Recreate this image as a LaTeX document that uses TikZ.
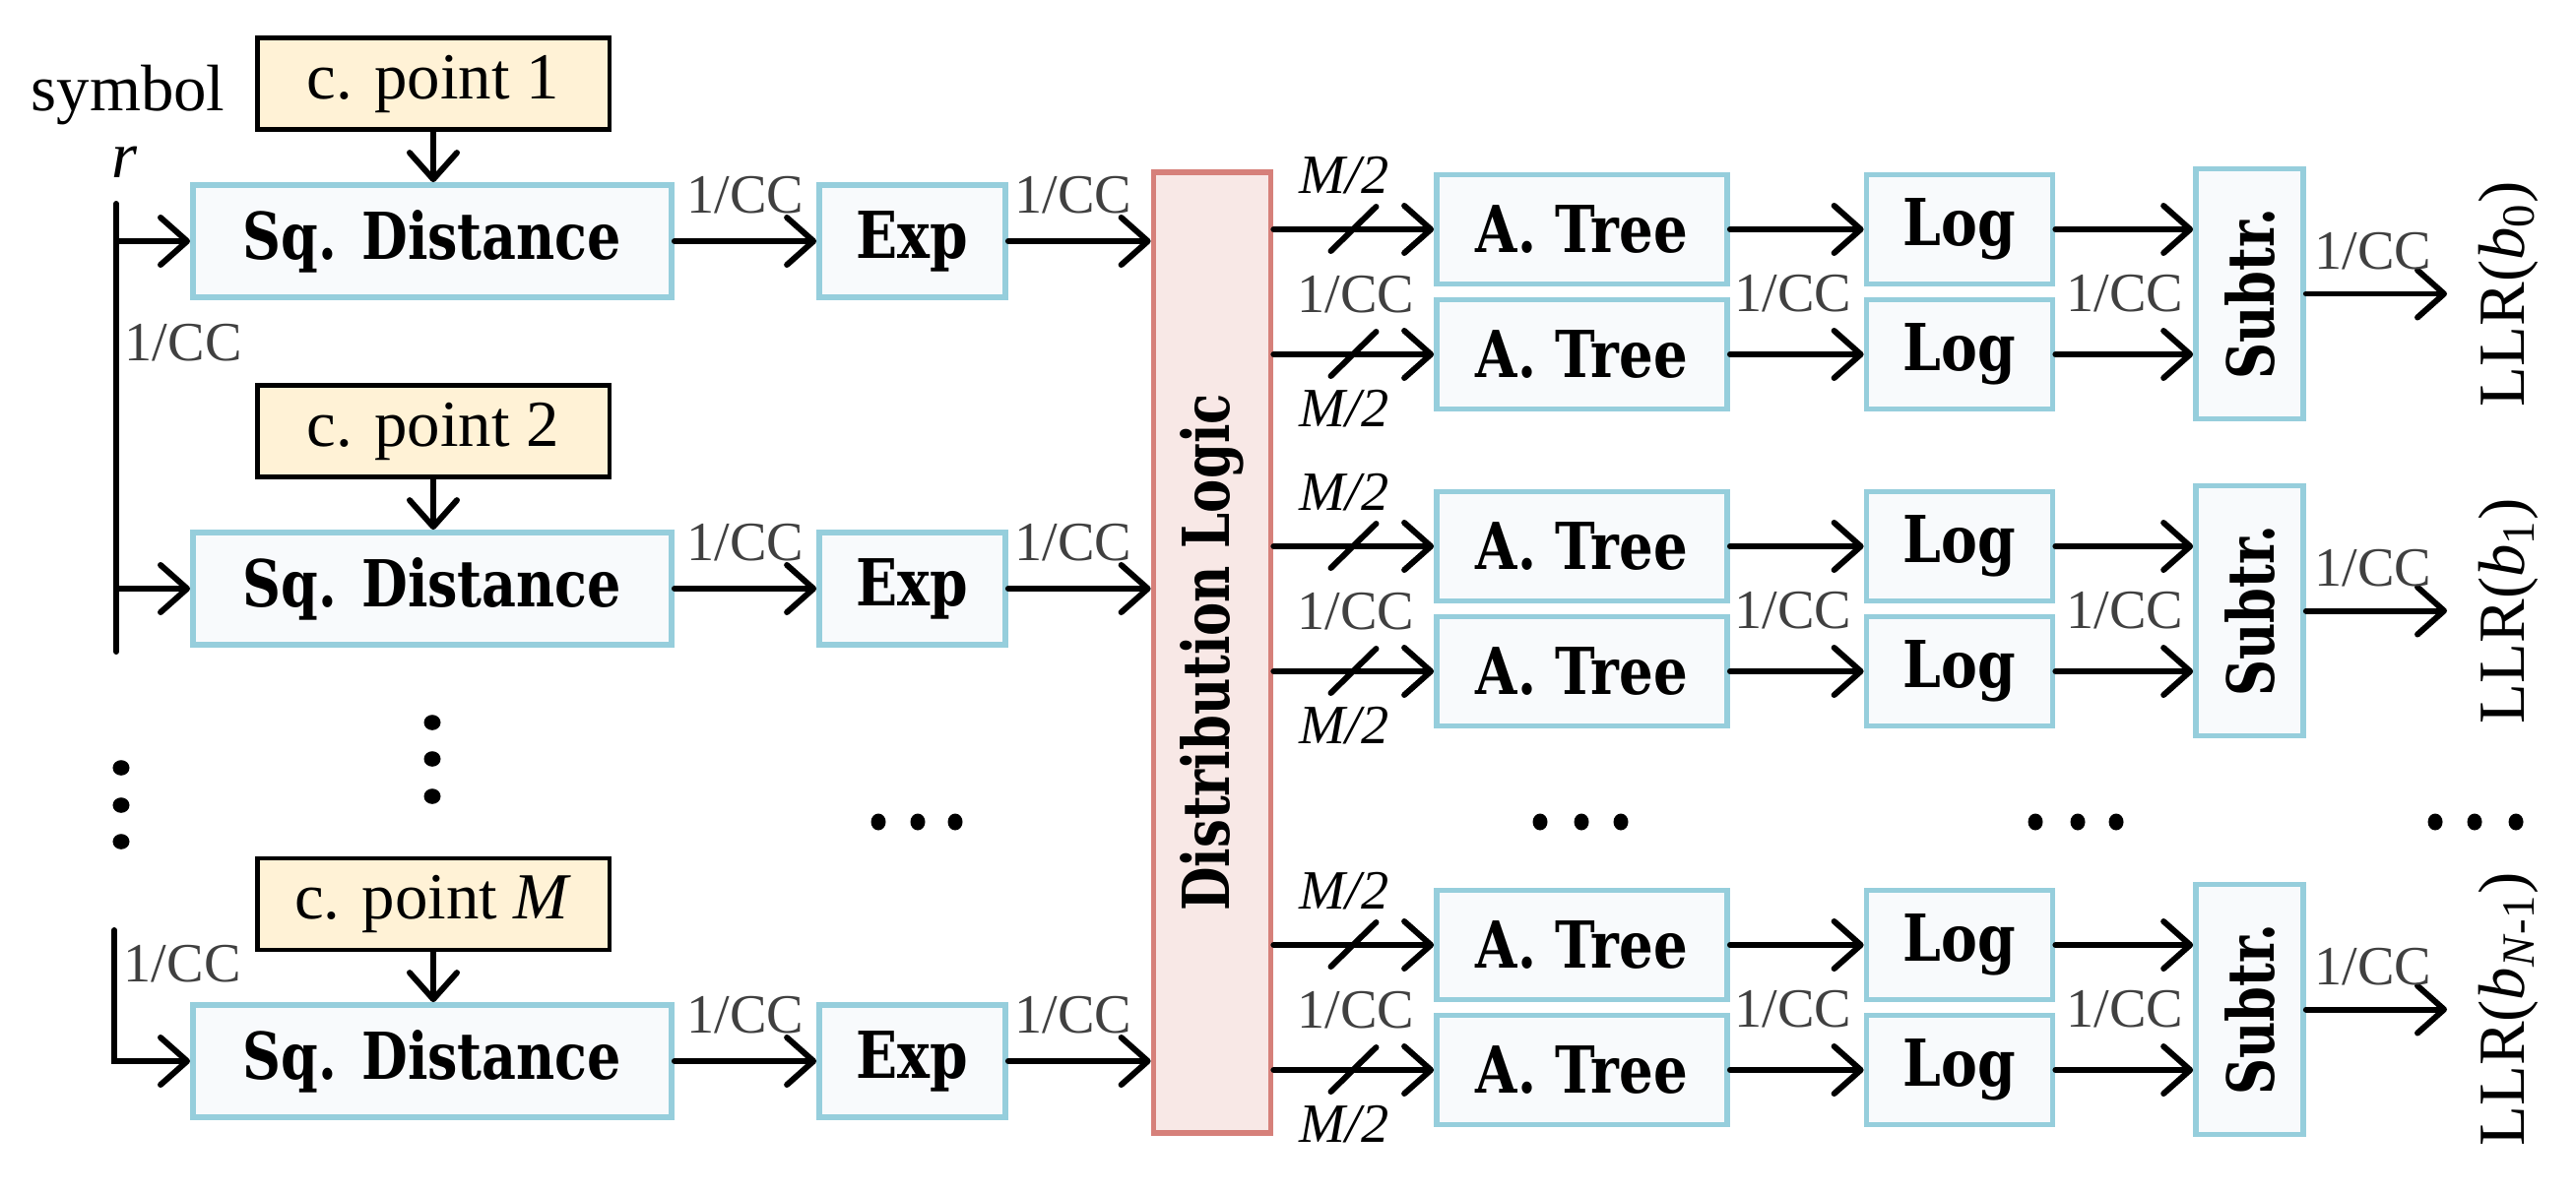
\documentclass[tikz,border=0pt]{standalone}
\usepackage{fontspec}
\usepackage{graphicx}
\setmainfont{Liberation Serif}
\newfontfamily\slabfamily{DejaVu Serif}
\usetikzlibrary{arrows.meta,calc}
\definecolor{bblue}{RGB}{150,206,220}
\definecolor{bfill}{RGB}{248,250,252}
\definecolor{yfill}{RGB}{255,242,214}
\definecolor{rborder}{RGB}{214,128,122}
\definecolor{rfill}{RGB}{248,232,230}
\definecolor{lgray}{RGB}{64,64,64}
\begin{document}
\begin{tikzpicture}[x=0.01cm, y=-0.01cm,
  proc/.style={draw=bblue, fill=bfill, line width=1.6pt, inner sep=0pt,
    font={\slabfamily\bfseries\fontsize{18.7}{22}\selectfont}},
  sqbox/.style={proc, minimum width=4.86cm, minimum height=1.14cm},
  expbox/.style={proc, minimum width=1.89cm, minimum height=1.14cm},
  treebox/.style={proc, minimum width=2.95cm, minimum height=1.11cm},
  logbox/.style={proc, minimum width=1.89cm, minimum height=1.11cm},
  subbox/.style={proc, minimum width=1.09cm, minimum height=2.54cm},
  distbox/.style={draw=rborder, fill=rfill, line width=1.6pt, inner sep=0pt,
    minimum width=1.19cm, minimum height=9.75cm,
    font={\slabfamily\bfseries\fontsize{18.7}{22}\selectfont}},
  cpt/.style={draw=black, fill=yfill, line width=1.2pt, inner sep=0pt,
    minimum width=3.57cm, minimum height=0.93cm,
    font={\fontsize{19}{21}\selectfont}},
  lab/.style={text=lgray, font={\fontsize{16}{18}\selectfont}, inner sep=0pt},
  mlab/.style={font={\fontsize{16}{18}\selectfont\itshape}, inner sep=0pt},
  llrlab/.style={font={\fontsize{19}{21}\selectfont}, inner sep=0pt},
  txt/.style={font={\fontsize{19}{21}\selectfont}, inner sep=0pt},
  ln/.style={line width=1.7pt, line cap=round},
  arr/.style={line width=1.7pt, line cap=round,
    -{Straight Barb[length=0.27cm, width=0.48cm, line cap=round, line join=round]}},
  dotc/.style={fill=black, draw=none}]
\useasboundingbox (0,0) rectangle (2616,1212);

% input label
\node[txt, anchor=base] (sym) at (130,112) {symbol};
\node[txt, anchor=base] (rsym) at (127,180) {\textit{r}};

% left rows
\foreach \r/\y/\cy/\cl in {1/245/85/{1}, 2/598/438/{2}, 3/1078/918.5/{\textit{M}}} {
  \node[sqbox] (sq\r) at (439,\y) {\scalebox{0.82}[1]{Sq. Distance}};
  \node[cpt] (cp\r) at (440,\cy) {c. point \cl};
  \node[expbox] (ex\r) at (926.5,\y) {\scalebox{0.84}[1]{Exp}};
  \draw[arr] (cp\r.south) -- (cp\r.south |- sq\r.north);
  \draw[arr] (sq\r.east) -- (ex\r.west);
  \node[lab] (cs\r) at (757,\y-47) {1/CC};
  \node[lab] (ce\r) at (1090,\y-47) {1/CC};
}

\node[distbox] (dist) at (1231,663) {\rotatebox{90}{\scalebox{0.78}[1]{Distribution Logic}}};
\foreach \r in {1,2,3} {
  \draw[arr] (ex\r.east) -- (ex\r.east -| dist.west);
}

% bus
\coordinate (busT) at (118,207);
\coordinate (busB) at (118,662);
\draw[ln] (busT) -- (busB);
\draw[arr] (busT |- sq1.west) -- (sq1.west);
\draw[arr] (busT |- sq2.west) -- (sq2.west);
\node[lab, anchor=west] (ccb) at (126,348) {1/CC};
\coordinate (busM) at (116,945);
\draw[arr] (busM) |- (sq3.west);
\node[lab, anchor=west] (ccm) at (125,979) {1/CC};

% right groups
\foreach \g/\ya/\yb/\sub in {1/233/360/{0}, 2/555/682/{1}, 3/960/1087/{\textit{N}-1}} {
  \pgfmathsetmacro\ym{(\ya+\yb)/2}
  \node[treebox] (ta\g) at (1606.5,\ya) {\scalebox{0.83}[1]{A. Tree}};
  \node[treebox] (tb\g) at (1606.5,\yb) {\scalebox{0.83}[1]{A. Tree}};
  \node[logbox] (la\g) at (1990,\ya) {\scalebox{0.84}[1]{Log}};
  \node[logbox] (lb\g) at (1990,\yb) {\scalebox{0.84}[1]{Log}};
  \node[subbox] (sb\g) at (2284.5,\ym+2) {\rotatebox{90}{\scalebox{0.78}[1]{Subtr.}}};
  \draw[arr] (dist.east |- ta\g.west) -- (ta\g.west);
  \draw[arr] (dist.east |- tb\g.west) -- (tb\g.west);
  \coordinate (sa\g) at (1374.5,\ya);
  \coordinate (sbb\g) at (1374.5,\yb);
  \draw[ln] (sa\g) ++(-23,22) -- ++(46,-45);
  \draw[ln] (sbb\g) ++(-23,22) -- ++(46,-45);
  \draw[arr] (ta\g.east) -- (la\g.west);
  \draw[arr] (tb\g.east) -- (lb\g.west);
  \draw[arr] (la\g.east) -- (la\g.east -| sb\g.west);
  \draw[arr] (lb\g.east) -- (lb\g.east -| sb\g.west);
  \coordinate (out\g) at (2485,\ym+2);
  \draw[arr] (sb\g.east) -- (out\g);
  \node[llrlab] (llr\g) at (2547,\ym+2) {\rotatebox{90}{LLR(\textit{b}\textsubscript{\sub})}};
  \node[mlab] (ma\g) at (1365,\ya-55) {M/2};
  \node[mlab] (mb\g) at (1365,\yb+55) {M/2};
  \node[lab] (ca\g) at (1377,\ym+3) {1/CC};
  \node[lab] (cb\g) at (1821,\ym+2) {1/CC};
  \node[lab] (cc\g) at (2158,\ym+2) {1/CC};
  \node[lab] (cd\g) at (2410,\ym-41) {1/CC};
}

% dots
\foreach \yy in {780,818,855} \fill[dotc] (123,\yy) ellipse [x radius=0.085cm, y radius=0.078cm];
\foreach \yy in {734,771,809} \fill[dotc] (439,\yy) ellipse [x radius=0.085cm, y radius=0.078cm];
\foreach \xx in {892,932,970,1564,1606,1646,2067,2110,2149,2473,2513,2555}
  \fill[dotc] (\xx,835) ellipse [x radius=0.075cm, y radius=0.085cm];
\end{tikzpicture}
\end{document}
